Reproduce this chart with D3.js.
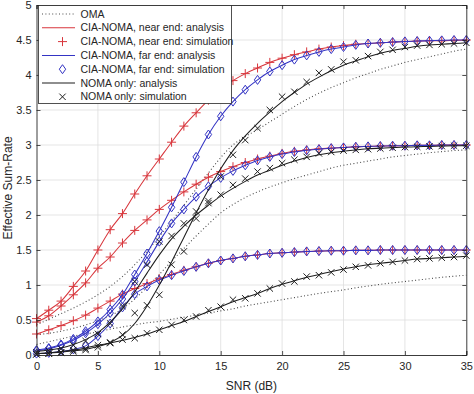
<!DOCTYPE html>
<html><head><meta charset="utf-8">
<script src="https://cdn.jsdelivr.net/npm/d3@7"></script>
<style>body{margin:0;background:#fff}svg{display:block}text{font-family:"Liberation Sans",Arial,sans-serif;fill:#262626}</style>
</head><body><svg id="c" width="474" height="394"></svg>
<script>
const snr = [0,1,2,3,4,5,6,7,8,9,10,11,12,13,14,15,16,17,18,19,20,21,22,23,24,25,26,27,28,29,30,31,32,33,34,35];
const xTicks = [0,5,10,15,20,25,30,35];
const yTicks = [0,0.5,1,1.5,2,2.5,3,3.5,4,4.5,5];
const legendLabels = ["OMA","CIA-NOMA, near end: analysis","CIA-NOMA, near end: simulation","CIA-NOMA, far end: analysis","CIA-NOMA, far end: simulation","NOMA only: analysis","NOMA only: simulation"];

// group 1 (saturates at 1.5)
const oma1  = [0.15,0.19,0.23,0.27,0.30,0.33,0.37,0.40,0.43,0.46,0.48,0.51,0.54,0.57,0.60,0.63,0.66,0.70,0.73,0.76,0.79,0.82,0.85,0.88,0.905,0.93,0.96,0.985,1.01,1.03,1.05,1.07,1.09,1.11,1.125,1.14];
const near1 = [0.30,0.36,0.42,0.49,0.57,0.67,0.77,0.87,0.95,1.02,1.09,1.15,1.21,1.26,1.31,1.35,1.38,1.41,1.43,1.45,1.46,1.47,1.48,1.485,1.49,1.49,1.495,1.495,1.5,1.5,1.5,1.5,1.5,1.5,1.5,1.5];
const far1  = [0.02,0.03,0.05,0.08,0.13,0.27,0.45,0.68,0.87,0.98,1.07,1.14,1.20,1.26,1.31,1.35,1.38,1.41,1.43,1.45,1.46,1.47,1.48,1.485,1.49,1.49,1.495,1.495,1.5,1.5,1.5,1.5,1.5,1.5,1.5,1.5];
const noma1 = [0.02,0.03,0.05,0.07,0.10,0.14,0.17,0.21,0.25,0.30,0.36,0.42,0.48,0.55,0.62,0.69,0.76,0.82,0.88,0.95,1.01,1.06,1.11,1.15,1.19,1.23,1.26,1.29,1.31,1.33,1.35,1.37,1.38,1.39,1.40,1.41];
const noma1Sim = [0.01,0.02,0.04,0.07,0.09,0.14,0.18,0.22,0.24,0.31,0.36,0.43,0.50,0.55,0.64,0.69,0.79,0.81,0.88,0.95,1.02,1.05,1.12,1.14,1.18,1.22,1.26,1.28,1.31,1.33,1.35,1.37,1.38,1.39,1.40,1.42];

// group 2 (saturates at 3)
const oma2  = [0.29,0.31,0.34,0.38,0.43,0.49,0.56,0.66,0.80,0.97,1.15,1.34,1.52,1.70,1.87,2.03,2.15,2.25,2.33,2.40,2.46,2.52,2.57,2.62,2.67,2.71,2.74,2.77,2.80,2.83,2.85,2.87,2.89,2.905,2.92,2.93];
const near2 = [0.47,0.56,0.70,0.86,1.03,1.24,1.40,1.60,1.78,1.93,2.08,2.21,2.33,2.44,2.54,2.62,2.69,2.75,2.80,2.84,2.88,2.91,2.93,2.945,2.955,2.965,2.975,2.98,2.985,2.99,2.99,2.995,2.995,3.0,3.0,3.0];
const far2  = [0.06,0.09,0.14,0.21,0.31,0.44,0.60,0.80,1.05,1.33,1.62,1.88,2.08,2.26,2.41,2.53,2.63,2.71,2.78,2.83,2.87,2.90,2.925,2.94,2.955,2.965,2.975,2.98,2.985,2.99,2.99,2.995,2.995,3.0,3.0,3.0];
const noma2 = [0.05,0.07,0.10,0.15,0.22,0.32,0.47,0.66,0.90,1.17,1.43,1.66,1.84,2.00,2.14,2.27,2.38,2.48,2.57,2.64,2.71,2.77,2.82,2.86,2.89,2.91,2.93,2.945,2.955,2.965,2.97,2.975,2.98,2.985,2.99,2.99];
const noma2Sim = [0.04,0.06,0.09,0.14,0.20,0.30,0.45,0.70,1.05,1.29,1.62,1.70,1.88,2.05,2.17,2.29,2.43,2.52,2.62,2.67,2.74,2.79,2.83,2.88,2.90,2.92,2.93,2.94,2.95,2.96,2.97,2.975,2.98,2.985,2.99,2.99];

// group 3 (saturates at 4.5)
const oma3  = [0.43,0.51,0.59,0.67,0.76,0.86,0.98,1.12,1.29,1.48,1.69,1.91,2.14,2.37,2.60,2.82,3.00,3.12,3.22,3.33,3.44,3.55,3.65,3.74,3.82,3.89,3.96,4.02,4.08,4.13,4.18,4.22,4.26,4.30,4.34,4.37];
const near3 = [0.52,0.64,0.77,0.98,1.20,1.50,1.79,2.02,2.30,2.56,2.80,3.04,3.27,3.46,3.64,3.79,3.92,4.02,4.10,4.18,4.24,4.29,4.33,4.37,4.40,4.42,4.44,4.45,4.46,4.47,4.48,4.485,4.49,4.49,4.495,4.5];
const far3  = [0.07,0.10,0.15,0.23,0.34,0.48,0.65,0.86,1.15,1.45,1.77,2.11,2.47,2.83,3.15,3.41,3.62,3.79,3.93,4.05,4.14,4.22,4.28,4.33,4.37,4.40,4.43,4.45,4.46,4.47,4.48,4.485,4.49,4.495,4.5,4.5];
const noma3 = [0.02,0.03,0.04,0.06,0.08,0.12,0.18,0.28,0.45,0.70,1.00,1.33,1.68,2.03,2.36,2.66,2.92,3.13,3.31,3.47,3.62,3.75,3.87,3.97,4.06,4.14,4.20,4.26,4.31,4.35,4.38,4.41,4.43,4.44,4.45,4.46];
const noma3Sim = [0.01,0.02,0.03,0.05,0.07,0.11,0.17,0.29,0.60,0.71,0.86,1.29,1.48,1.95,2.20,2.55,2.86,3.07,3.24,3.50,3.69,3.76,3.90,4.03,4.08,4.19,4.21,4.27,4.33,4.36,4.40,4.42,4.43,4.44,4.45,4.46];

const RED = "#d8363c", BLUE = "#3434c4", BLACK = "#1e1e1e", GRAY = "#4a4a4a";
const svg = d3.select("#c");
const L = 36.5, R = 466.3, T = 5, B = 355;
const x = d3.scaleLinear().domain([0,35]).range([L,R]);
const y = d3.scaleLinear().domain([0,5]).range([B,T]);

// grid
const grid = svg.append("g");
grid.selectAll(".gx").data(xTicks.slice(1,-1)).join("line")
  .attr("x1",d=>x(d)).attr("x2",d=>x(d)).attr("y1",T).attr("y2",B)
  .attr("stroke","#dedede").attr("stroke-width",0.8);
grid.selectAll(".gy").data(yTicks.slice(1,-1)).join("line")
  .attr("y1",d=>y(d)).attr("y2",d=>y(d)).attr("x1",L).attr("x2",R)
  .attr("stroke","#dedede").attr("stroke-width",0.8);

const plot = svg.append("g");
const line = d3.line().x((d,i)=>x(snr[i])).y(d=>y(d)).curve(d3.curveMonotoneX);
function drawLine(arr,color,dash){
  plot.append("path").datum(arr).attr("d",line).attr("fill","none")
    .attr("stroke",color).attr("stroke-width",dash?1.1:1.05)
    .attr("stroke-dasharray",dash?"1,2.4":null);
}
function marker(sel,type,color){
  if(type==="plus"){
    sel.append("path").attr("d","M-4.5,0H4.5M0,-4.5V4.5");
  } else if(type==="diamond"){
    sel.append("path").attr("d","M0,-4.5L3.2,0L0,4.5L-3.2,0Z");
  } else {
    sel.append("path").attr("d","M-3.2,-3.2L3.2,3.2M-3.2,3.2L3.2,-3.2");
  }
  sel.selectAll("path").attr("fill","none").attr("stroke",color).attr("stroke-width",1);
}
function drawMarkers(arr,type,color){
  plot.append("g").selectAll("g").data(arr).join("g")
    .attr("transform",(d,i)=>`translate(${x(snr[i])},${y(d)})`)
    .each(function(){marker(d3.select(this),type,color);});
}

[oma1,oma2,oma3].forEach(a=>drawLine(a,GRAY,true));
[near1,near2,near3].forEach(a=>drawLine(a,RED));
[near1,near2,near3].forEach(a=>drawMarkers(a,"plus",RED));
[far1,far2,far3].forEach(a=>drawLine(a,BLUE));
[far1,far2,far3].forEach(a=>drawMarkers(a,"diamond",BLUE));
[noma1,noma2,noma3].forEach(a=>drawLine(a,BLACK));
[noma1Sim,noma2Sim,noma3Sim].forEach(a=>drawMarkers(a,"x",BLACK));

// axes (box with inward ticks)
const axes = svg.append("g");
axes.append("g").attr("transform",`translate(0,${B})`)
  .call(d3.axisBottom(x).tickValues(xTicks).tickSize(-4).tickPadding(7).tickFormat(d3.format("d")));
axes.append("g").attr("transform",`translate(0,${T})`)
  .call(d3.axisTop(x).tickValues(xTicks).tickSize(-4).tickFormat(""));
axes.append("g").attr("transform",`translate(${L},0)`)
  .call(d3.axisLeft(y).tickValues(yTicks).tickSize(-4).tickPadding(5).tickFormat(d=>String(d)));
axes.append("g").attr("transform",`translate(${R},0)`)
  .call(d3.axisRight(y).tickValues(yTicks).tickSize(-4).tickFormat(""));
axes.selectAll(".domain").attr("stroke","#262626").attr("stroke-width",0.9);
axes.selectAll(".tick line").attr("stroke","#262626").attr("stroke-width",0.8);
axes.selectAll(".tick text").attr("font-size",11).attr("font-family","Liberation Sans, Arial, sans-serif").attr("fill","#262626");

// axis labels
svg.append("text").attr("x",(L+R)/2).attr("y",390).attr("text-anchor","middle")
  .attr("font-size",12).text("SNR (dB)");
svg.append("text").attr("transform","translate(12,188) rotate(-90)").attr("text-anchor","middle")
  .attr("font-size",12).text("Effective Sum-Rate");

// legend
const lg = svg.append("g").attr("transform","translate(38.5,5.5)");
lg.append("rect").attr("width",193).attr("height",98).attr("fill","#fff")
  .attr("stroke","#262626").attr("stroke-width",0.8);
const styles = [
  {c:GRAY,dash:true,m:null},
  {c:RED,m:null},{c:RED,m:"plus",noline:true},
  {c:BLUE,m:null},{c:BLUE,m:"diamond",noline:true},
  {c:BLACK,m:null},{c:BLACK,m:"x",noline:true}
];
const rows = lg.selectAll("g.row").data(legendLabels).join("g")
  .attr("transform",(d,i)=>`translate(0,${8.5+i*13.8})`);
rows.each(function(d,i){
  const s = styles[i], r = d3.select(this);
  if(!s.noline){
    r.append("line").attr("x1",3.5).attr("x2",36.5).attr("y1",0).attr("y2",0)
      .attr("stroke",s.c).attr("stroke-width",s.dash?1.1:1.05).attr("stroke-dasharray",s.dash?"1,2.4":null);
  }
  if(s.m){ const mg=r.append("g").attr("transform","translate(24,0)"); marker(mg,s.m,s.c); }
  r.append("text").attr("x",42).attr("y",0).attr("dy","0.35em").attr("font-size",10.5).text(d);
});
</script></body></html>
